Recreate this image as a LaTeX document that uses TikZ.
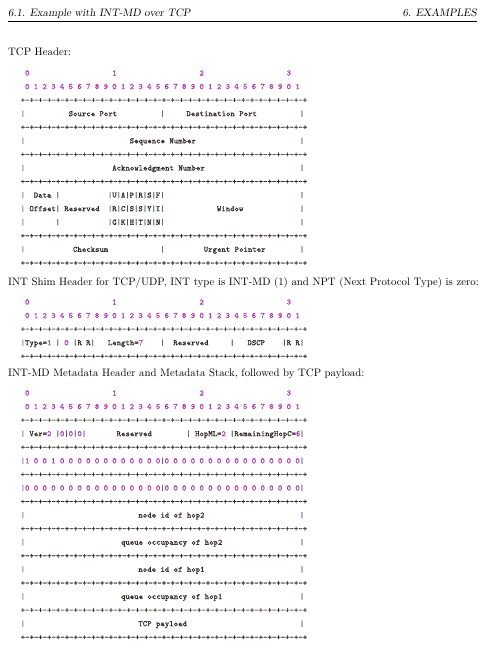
\documentclass[tikz,border=0pt]{standalone}
\usepackage{fontspec}
\setmonofont{Latin Modern Mono}[FakeBold=0.4]
\usepackage{tikz}
\usetikzlibrary{positioning}

\definecolor{ink}{RGB}{45,40,35}
\definecolor{numc}{RGB}{175,55,185}
\definecolor{barc}{RGB}{70,85,120}

\newcommand{\codefont}{\fontsize{8.3}{10}\selectfont\ttfamily}
\newcommand{\prosefont}{\fontsize{10.8}{13}\selectfont}
\newcommand{\dashrow}{+-+-+-+-+-+-+-+-+-+-+-+-+-+-+-+-+-+-+-+-+-+-+-+-+-+-+-+-+-+-+-+-+}
\newcommand{\nm}[1]{\textcolor{numc}{#1}}

\tikzset{
  code/.style={font=\codefont, text=ink, inner sep=0pt, anchor=base west},
  num/.style={code, text=numc},
  bar/.style={code, text=barc},
  prose/.style={font=\prosefont, text=black, inner sep=0pt, anchor=base west},
  cell/.style 2 args={at={({20.5+4.36*(#1)},{\yo+13.57*(#2)+2.5})}},
}

% bit ruler: tens and ones rows, prefix for names
\newcommand{\bitruler}[1]{
  \foreach \t in {0,...,3}
    \node[num, cell={20*\t+1}{0}] (#1-ten-\t) {\t};
  \foreach \i in {0,...,31} {
    \pgfmathtruncatemacro\d{mod(\i,10)}
    \node[num, cell={2*\i+1}{1}] (#1-one-\i) {\d};
  }
}

\begin{document}
\begin{tikzpicture}[x=1pt, y=-1pt]
\useasboundingbox (0,0) rectangle (497,651);

% running head
\node[prose, font=\prosefont\slshape] (headleft) at (8,16) {6.1. Example with INT-MD over TCP};
\node[prose, font=\prosefont\slshape, anchor=base east] (headright) at (477,16) {6. EXAMPLES};
\draw[line width=0.9pt] (headleft.base west |- 0,21.5) -- (headright.base east |- 0,21.5);

% TCP header
\node[prose] (tcptitle) at (8,55.5) {TCP Header:};
\def\yo{73}
\bitruler{tcp}
\foreach \k in {2,4,6,8,12,14}
  \node[code, cell={0}{\k}] (tcp-rule-\k) {\dashrow};
\foreach \c in {0,32,64}
  \node[bar, cell={\c}{3}] (tcp-b3-\c) {|};
\node[code, cell={11}{3}] (srcport) {Source Port};
\node[code, cell={38}{3}] (dstport) {Destination Port};
\foreach \k in {5,7}
  \foreach \c in {0,64}
    \node[bar, cell={\c}{\k}] (tcp-b\k-\c) {|};
\node[code, cell={25}{5}] (seqnum) {Sequence Number};
\node[code, cell={21}{7}] (acknum) {Acknowledgment Number};
\foreach \k in {9,10,11}
  \foreach \c in {0,8,20,22,24,26,28,30,32,64}
    \node[bar, cell={\c}{\k}] (tcp-b\k-\c) {|};
\node[code, cell={3}{9}] (dataoff1) {Data};
\node[code, cell={2}{10}] (dataoff2) {Offset};
\node[code, cell={10}{10}] (tcpres) {Reserved};
\node[code, cell={45}{10}] (window) {Window};
\foreach \f [count=\n from 0] in {U,A,P,R,S,F}
  \node[code, cell={21+2*\n}{9}] (flag1-\n) {\f};
\foreach \f [count=\n from 0] in {R,C,S,S,Y,I}
  \node[code, cell={21+2*\n}{10}] (flag2-\n) {\f};
\foreach \f [count=\n from 0] in {G,K,H,T,N,N}
  \node[code, cell={21+2*\n}{11}] (flag3-\n) {\f};
\foreach \c in {0,32,64}
  \node[bar, cell={\c}{13}] (tcp-b13-\c) {|};
\node[code, cell={12}{13}] (checksum) {Checksum};
\node[code, cell={42}{13}] (urgptr) {Urgent Pointer};

% INT shim header
\node[prose] (shimtitle) at (8,285.7) {INT Shim Header for TCP/UDP, INT type is INT-MD (1) and NPT (Next Protocol Type) is zero:};
\def\yo{302}
\bitruler{shim}
\foreach \k in {2,4}
  \node[code, cell={0}{\k}] (shim-rule-\k) {\dashrow};
\foreach \c in {0,8,12,16,32,48,60,64}
  \node[bar, cell={\c}{3}] (shim-b-\c) {|};
\node[code, cell={1}{3}] (shimtype) {Type=\nm{1}};
\node[num, cell={10}{3}] (shimnpt) {0};
\node[code, cell={13}{3}] (shimr1) {R};
\node[code, cell={15}{3}] (shimr2) {R};
\node[code, cell={20}{3}] (shimlen) {Length=\nm{7}};
\node[code, cell={35}{3}] (shimres) {Reserved};
\node[code, cell={52}{3}] (shimdscp) {DSCP};
\node[code, cell={61}{3}] (shimr3) {R};
\node[code, cell={63}{3}] (shimr4) {R};

% INT-MD metadata header and stack
\node[prose] (mdtitle) at (8,376.7) {INT-MD Metadata Header and Metadata Stack, followed by TCP payload:};
\def\yo{393}
\bitruler{md}
\foreach \k in {2,4,6,8,10,12,14,16,18}
  \node[code, cell={0}{\k}] (md-rule-\k) {\dashrow};
\foreach \c in {0,8,10,12,14,38,48,64}
  \node[bar, cell={\c}{3}] (md-b3-\c) {|};
\node[code, cell={2}{3}] (mdver) {Ver=\nm{2}};
\foreach \c in {9,11,13}
  \node[num, cell={\c}{3}] (mdflag-\c) {0};
\node[code, cell={22}{3}] (mdres) {Reserved};
\node[code, cell={40}{3}] (hopml) {HopML=\nm{2}};
\node[code, cell={49}{3}] (remhop) {RemainingHopC=\nm{6}};
\foreach \k in {5,7}
  \foreach \c in {0,32,64}
    \node[bar, cell={\c}{\k}] (md-b\k-\c) {|};
\foreach \i in {0,...,31} {
  \pgfmathtruncatemacro\b{(\i==0 || \i==3) ? 1 : 0}
  \node[num, cell={2*\i+1}{5}] (inst-\i) {\b};
  \node[num, cell={2*\i+1}{7}] (rsvd-\i) {0};
}
\foreach \k in {9,11,13,15,17}
  \foreach \c in {0,64}
    \node[bar, cell={\c}{\k}] (md-b\k-\c) {|};
\node[code, cell={27}{9}] (nodeid2) {node id of hop2};
\node[code, cell={23}{11}] (queue2) {queue occupancy of hop2};
\node[code, cell={27}{13}] (nodeid1) {node id of hop1};
\node[code, cell={23}{15}] (queue1) {queue occupancy of hop1};
\node[code, cell={27}{17}] (payload) {TCP payload};
\end{tikzpicture}
\end{document}
